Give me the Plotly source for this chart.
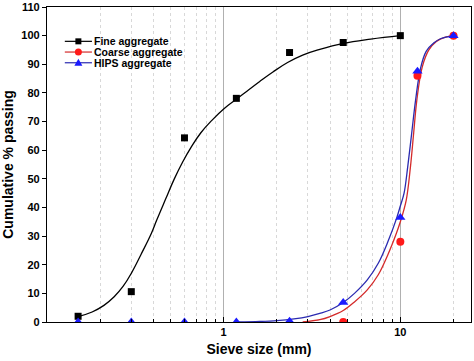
import plotly.graph_objects as go

# ---- measured gradation points ----
sieve_fine = [0.15, 0.3, 0.6, 1.18, 2.36, 4.75, 10]
pass_fine = [2.0, 10.6, 64.3, 78.1, 94.1, 97.6, 100]

sieve_coarse = [4.75, 10, 12.5, 20]
pass_coarse = [0, 28, 86, 100]

sieve_hips = [0.15, 0.3, 0.6, 1.18, 2.36, 4.75, 10, 12.5, 20]
pass_hips = [0, 0, 0, 0, 0.3, 6.8, 36.5, 87.6, 100]

# ---- fitted curves ----
fit_fine_x = [0.15, 0.18, 0.21, 0.24, 0.27, 0.3, 0.34, 0.39, 0.418, 0.47, 0.524,
              0.585, 0.651, 0.741, 0.863, 1.0, 1.18, 1.36, 1.6, 1.9, 2.3, 2.8,
              3.5, 4.75, 6.8, 10]
fit_fine_y = [1.9, 3.5, 5.8, 8.8, 12.5, 17.0, 23.5, 31.0, 35.6, 43.0, 49.8,
              55.8, 60.8, 66.0, 70.6, 74.4, 77.8, 80.7, 84.0, 87.3, 90.6, 93.2,
              95.2, 97.3, 98.8, 100]

fit_coarse_x = [2.8, 3.5, 4.0, 4.75, 5.5, 6.5, 7.5, 8.5, 9.5, 10, 10.8, 11.4,
                11.9, 12.4, 13.3, 14.5, 16, 18, 20]
fit_coarse_y = [0, 0.8, 1.9, 4.0, 7.0, 11.2, 16.5, 23.5, 31.0, 35.0, 42.6, 54.0,
                66.0, 77.5, 89.0, 95.0, 98.0, 99.5, 100]

fit_hips_x = [1.2, 1.6, 2.0, 2.5, 3.0, 3.5, 4.0, 4.75, 5.5, 6.5, 7.5, 8.5, 9.5,
              10, 10.5, 11, 11.6, 12.2, 13, 14, 15.5, 17, 20]
fit_hips_y = [0, 0.2, 0.5, 1.1, 1.9, 3.0, 4.2, 6.8, 10.0, 14.7, 20.5, 28.0, 36.0,
              40.5, 45.0, 54.0, 66.0, 77.5, 88.5, 94.5, 97.5, 99.0, 100]

series_names = ["Fine aggregate", "Coarse aggregate", "HIPS aggregate"]
x_tick_vals = [1, 10]
x_tick_text = ["1", "10"]
x_minor_vals = [0.2, 0.3, 0.4, 0.5, 0.6, 0.7, 0.8, 0.9,
                2, 3, 4, 5, 6, 7, 8, 9, 20]
y_tick_vals = list(range(0, 111, 10))

BLACK = "#000000"
RED = "#ff1a1a"
BLUE = "#1a1aff"
RED_LINE = "#d42a2a"
BLUE_LINE = "#2a2ab0"
FONT = "Liberation Sans, Arial, sans-serif"

fig = go.Figure()

fig.add_trace(go.Scatter(x=fit_fine_x, y=fit_fine_y, mode="lines",
                         line=dict(color=BLACK, width=1.3, shape="spline",
                                   smoothing=1.2),
                         showlegend=False, hoverinfo="skip"))
fig.add_trace(go.Scatter(x=fit_coarse_x, y=fit_coarse_y, mode="lines",
                         line=dict(color=RED_LINE, width=1.3, shape="spline"),
                         showlegend=False, hoverinfo="skip"))
fig.add_trace(go.Scatter(x=fit_hips_x, y=fit_hips_y, mode="lines",
                         line=dict(color=BLUE_LINE, width=1.3, shape="spline"),
                         showlegend=False, hoverinfo="skip"))

fig.add_trace(go.Scatter(x=sieve_fine, y=pass_fine, mode="markers",
                         name=series_names[0],
                         marker=dict(symbol="square", size=7, color=BLACK),
                         showlegend=False))
fig.add_trace(go.Scatter(x=sieve_coarse, y=pass_coarse, mode="markers",
                         name=series_names[1],
                         marker=dict(symbol="circle", size=8, color=RED),
                         showlegend=False))
fig.add_trace(go.Scatter(x=sieve_hips, y=pass_hips, mode="markers",
                         name=series_names[2],
                         marker=dict(symbol="triangle-up", size=9, color=BLUE),
                         showlegend=False))

# ---- hand-drawn compact legend (paper coordinates) ----
leg_rows_y = [0.891, 0.857, 0.823]
leg_line_x0, leg_line_x1, leg_mark_x, leg_text_x = 0.042, 0.106, 0.074, 0.108
leg_line_cols = [BLACK, RED_LINE, BLUE_LINE]
leg_mark_cols = [BLACK, RED, BLUE]
shapes = []
annotations = []
for i, ry in enumerate(leg_rows_y):
    shapes.append(dict(type="line", xref="paper", yref="paper",
                       x0=leg_line_x0, x1=leg_line_x1, y0=ry, y1=ry,
                       line=dict(color=leg_line_cols[i], width=1.2)))
    common = dict(xref="paper", yref="paper", xsizemode="pixel", ysizemode="pixel",
                  xanchor=leg_mark_x, yanchor=ry,
                  fillcolor=leg_mark_cols[i], line=dict(width=0))
    if i == 0:
        shapes.append(dict(type="rect", x0=-3, x1=3, y0=-3, y1=3, **common))
    elif i == 1:
        shapes.append(dict(type="circle", x0=-3.5, x1=3.5, y0=-3.5, y1=3.5, **common))
    else:
        shapes.append(dict(type="path", path="M -4,-3 L 4,-3 L 0,4 Z", **common))
    annotations.append(dict(xref="paper", yref="paper", x=leg_text_x, y=ry,
                            xanchor="left", yanchor="middle", showarrow=False,
                            text=series_names[i], borderpad=0,
                            font=dict(family=FONT, size=10.5, color="#000",
                                      weight="bold")))

fig.update_layout(
    width=474, height=361,
    margin=dict(l=47, r=3, t=7, b=39),
    paper_bgcolor="white", plot_bgcolor="white",
    font=dict(family=FONT, color="#000"),
    shapes=shapes, annotations=annotations,
    showlegend=False,
)

fig.update_xaxes(
    type="log", range=[-1, 1.4], automargin=False,
    tickmode="array", tickvals=x_tick_vals, ticktext=x_tick_text,
    ticks="inside", ticklen=5, tickwidth=1, tickcolor="#000",
    showgrid=True, gridcolor="#b0b0b0", gridwidth=1,
    minor=dict(tickmode="array", tickvals=x_minor_vals, ticks="inside",
               ticklen=3, tickcolor="#000", showgrid=True,
               gridcolor="#d8d8d8", griddash="dot", gridwidth=1),
    showline=True, linecolor="#000", linewidth=1.3, mirror=True,
    zeroline=False,
    tickfont=dict(family=FONT, size=11, color="#000", weight="bold"),
    title=dict(text="Sieve size (mm)", standoff=6,
               font=dict(family=FONT, size=14, color="#000", weight="bold")),
)

fig.update_yaxes(
    range=[0, 110], tickmode="array", tickvals=y_tick_vals, automargin=False,
    ticks="outside", ticklen=4, tickwidth=1, tickcolor="#000",
    showgrid=False, zeroline=False,
    showline=True, linecolor="#000", linewidth=1.3, mirror=True,
    tickfont=dict(family=FONT, size=11, color="#000", weight="bold"),
    title=dict(text="Cumulative % passing", standoff=5,
               font=dict(family=FONT, size=14, color="#000", weight="bold")),
)

fig.write_html("out.html", config={"displayModeBar": False},
               post_script="document.body.style.margin='0';document.body.style.padding='0';")
